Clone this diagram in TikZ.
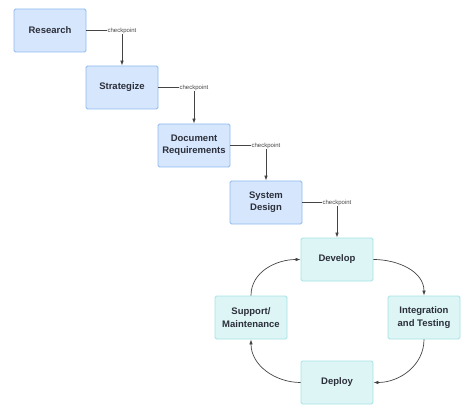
\documentclass[tikz,border=0pt]{standalone}
\usepackage{fontspec}
\setmainfont{Liberation Sans}
\usetikzlibrary{arrows.meta}
\definecolor{bfill}{HTML}{D6E6FD}
\definecolor{bdraw}{HTML}{8FB9F0}
\definecolor{tfill}{HTML}{DDF5F5}
\definecolor{tdraw}{HTML}{A6E3E6}
\definecolor{txt}{HTML}{2B2F3A}
\definecolor{ln}{HTML}{444444}
\begin{document}
\begin{tikzpicture}[x=1pt,y=-1pt,
  box/.style={rounded corners=1.5pt, line width=0.9pt, minimum width=72pt, minimum height=43pt,
    align=center, font=\fontsize{9.5}{12.3}\selectfont\bfseries, text=txt, inner sep=1pt},
  bbox/.style={box, fill=bfill, draw=bdraw},
  tbox/.style={box, fill=tfill, draw=tdraw},
  cp/.style={font=\fontsize{6}{7}\selectfont, text=ln, inner sep=0.8pt},
  conn/.style={draw=ln, line width=0.7pt},
  arr/.style={conn, -{Latex[length=5pt,width=3.6pt]}}]
\useasboundingbox (0,0) rectangle (474,417);
\node[bbox] (r) at (50,30.5) {Research};
\node[bbox] (s) at (122,87.5) {Strategize};
\node[bbox] (d) at (194,145.5) {Document\\Requirements};
\node[bbox] (sd) at (266,202.5) {System\\Design};
\node[tbox] (dev) at (337,259.5) {Develop};
\node[tbox] (it) at (424,317.5) {Integration\\and Testing};
\node[tbox] (sup) at (251,317.5) {Support/\\Maintenance};
\node[tbox] (dep) at (337,382.5) {Deploy};
\node[cp] (c1) at (s.north |- r.east) {checkpoint};
\node[cp] (c2) at (d.north |- s.east) {checkpoint};
\node[cp] (c3) at (sd.north |- d.east) {checkpoint};
\node[cp] (c4) at (dev.north |- sd.east) {checkpoint};
\foreach \a/\c/\b in {r/c1/s, s/c2/d, d/c3/sd, sd/c4/dev} {
  \draw[conn] (\a.east) -- (\c.west);
  \draw[arr] (\c.south) -- (\b.north);
}
\draw[arr] (dev.east) to[out=0,in=90] (it.north);
\draw[arr] (it.south) to[out=-90,in=0] (dep.east);
\draw[arr] (dep.west) to[out=180,in=-90] (sup.south);
\draw[arr] (sup.north) to[out=90,in=180] (dev.west);
\end{tikzpicture}
\end{document}
